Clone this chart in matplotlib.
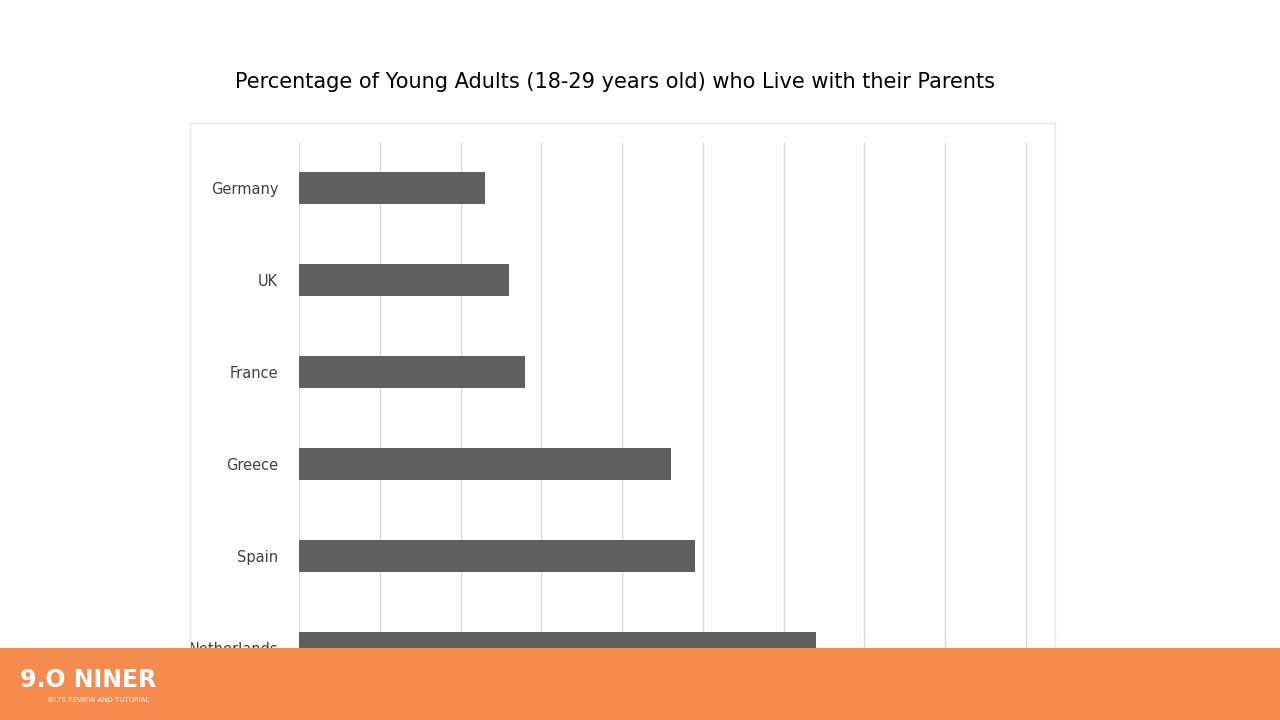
import matplotlib
matplotlib.use("Agg")
import matplotlib.pyplot as plt
from matplotlib.patches import Rectangle

countries = ["Germany", "UK", "France", "Greece", "Spain", "Netherlands"]
values = [23, 26, 28, 46, 49, 64]
title = "Percentage of Young Adults (18-29 years old) who Live with their Parents"

W, H = 1280, 720
fig = plt.figure(figsize=(12.8, 7.2), dpi=100)
fig.patch.set_facecolor("white")

def fx(x): return x / W
def fy(y): return 1 - y / H

fig.patches.append(Rectangle((fx(190), fy(720)), fx(1055) - fx(190), fy(123) - fy(720),
                             transform=fig.transFigure, fill=False, edgecolor="#e6e6e6", lw=1))

ax = fig.add_axes([fx(299), fy(700), fx(1030) - fx(299), fy(143) - fy(700)])
ax.barh(range(len(countries)), values, height=0.35, color="#5f5f5f", zorder=3)
ax.set_xlim(0, 90.5)
ax.set_ylim(5.57, -0.49)
ax.set_xticks(range(0, 91, 10))
ax.xaxis.grid(True, color="#d9d9d9", lw=1, zorder=0)
ax.tick_params(axis="x", length=0, labelbottom=False)
ax.set_yticks(range(len(countries)))
ax.set_yticklabels(countries, fontsize=10.5, color="#404040")
ax.tick_params(axis="y", length=0, pad=15)
for s in ax.spines.values():
    s.set_visible(False)
ax.set_facecolor("none")

fig.text(fx(615), fy(82), title, ha="center", va="center", fontsize=15, color="black")

fig.patches.append(Rectangle((0, 0), 1, fy(648), transform=fig.transFigure,
                             facecolor="#f58b4f", edgecolor="none", zorder=10))
fig.text(fx(20), fy(680), "9.O NINER", color="white", fontsize=17, fontweight="bold",
         va="center", ha="left", zorder=11)
fig.text(fx(48), fy(700), "IELTS REVIEW AND TUTORIAL", color="white", fontsize=5,
         va="center", ha="left", zorder=11)

fig.savefig("out.png", dpi=100)
